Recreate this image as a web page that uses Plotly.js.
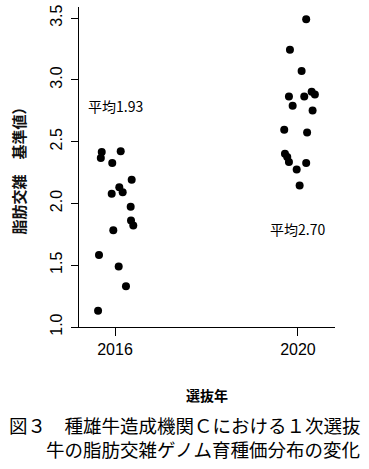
<!DOCTYPE html>
<html><head><meta charset="utf-8">
<script src="https://cdn.plot.ly/plotly-3.0.1.min.js"></script>
<style>html,body{margin:0;padding:0;background:#fff}#chart{width:369px;height:469px}</style>
</head><body><div id="chart"></div>
<script>
// 2016 selection (jittered x positions, values)
const x2016 = [2015.71, 2016.125, 2015.69, 2015.94, 2016.365, 2016.094, 2016.168, 2015.928, 2016.343, 2016.35, 2016.40, 2015.963, 2015.65, 2016.081, 2016.24, 2015.63];
const y2016 = [2.417, 2.422, 2.368, 2.328, 2.191, 2.131, 2.090, 2.078, 1.973, 1.862, 1.822, 1.784, 1.582, 1.490, 1.329, 1.132];
// 2020 selection
const x2020 = [2020.18, 2019.825, 2020.08, 2019.803, 2020.138, 2020.30, 2020.37, 2019.884, 2020.32, 2019.70, 2020.20, 2019.716, 2019.766, 2019.803, 2020.18, 2019.972, 2020.037];
const y2020 = [3.491, 3.243, 3.071, 2.866, 2.866, 2.904, 2.882, 2.791, 2.753, 2.597, 2.575, 2.403, 2.376, 2.336, 2.328, 2.274, 2.145];
const tickYears = [2016, 2020];
const tickLabels = ['2016', '2020'];
const yTicks = [1.0, 1.5, 2.0, 2.5, 3.0, 3.5];
const yTickLabels = ['1.0', '1.5', '2.0', '2.5', '3.0', '3.5'];
const meanLabels = ['平均1.93', '平均2.70'];
const meanLabelY = [2.79, 1.79];

const jp = '"Noto Sans CJK JP", sans-serif';
const latin = '"Liberation Sans", Arial, sans-serif';

// plot area in pixels (for converting caption positions to paper coords)
const PL = 79, PR = 335, PT = 7, PB = 327;
const px2paperX = p => (p - PL) / (PR - PL);
const px2paperY = p => (PB - p) / (PB - PT);

const marker = {color: '#000', size: 8, symbol: 'circle', line: {width: 0}};
const data = [
  {x: x2016, y: y2016, type: 'scatter', mode: 'markers', marker: marker, hoverinfo: 'none'},
  {x: x2020, y: y2020, type: 'scatter', mode: 'markers', marker: marker, hoverinfo: 'none'}
];

const layout = {
  width: 369, height: 469,
  margin: {l: PL, r: 369 - PR, t: PT, b: 469 - PB},
  paper_bgcolor: '#fff', plot_bgcolor: '#fff',
  showlegend: false,
  xaxis: {
    range: [2015.213, 2020.81],
    tickvals: tickYears, ticktext: tickLabels,
    showgrid: false, zeroline: false,
    showline: true, linecolor: '#000', linewidth: 1,
    ticks: 'outside', ticklen: 8, tickwidth: 1, tickcolor: '#000',
    tickfont: {family: latin, size: 16, color: '#000'},
    title: {text: '選抜年', font: {family: jp, size: 14, color: '#000', weight: 'bold'}, standoff: 33}
  },
  yaxis: {
    range: [1.0, 3.59],
    tickvals: yTicks, ticktext: yTickLabels,
    showgrid: false, zeroline: false,
    showline: true, linecolor: '#000', linewidth: 1,
    ticks: 'outside', ticklen: 7, tickwidth: 1, tickcolor: '#000',
    tickangle: -90, ticklabelstandoff: 3,
    tickfont: {family: latin, size: 16, color: '#000'},
    title: {text: '脂肪交雑　基準値）', font: {family: jp, size: 15, color: '#111', weight: 'bold'}, standoff: 18}
  },
  annotations: [
    {x: tickYears[0], y: meanLabelY[0], xref: 'x', yref: 'y', text: meanLabels[0], showarrow: false,
     font: {family: jp, size: 14, color: '#000'}},
    {x: tickYears[1], y: meanLabelY[1], xref: 'x', yref: 'y', text: meanLabels[1], showarrow: false,
     font: {family: jp, size: 14, color: '#000'}},
    {x: px2paperX(7), y: px2paperY(424.5), xref: 'paper', yref: 'paper', xanchor: 'left', yanchor: 'middle',
     text: '図３　種雄牛造成機関Ｃにおける１次選抜', showarrow: false,
     font: {family: jp, size: 18.5, color: '#000'}},
    {x: px2paperX(362), y: px2paperY(448.5), xref: 'paper', yref: 'paper', xanchor: 'right', yanchor: 'middle',
     text: '牛の脂肪交雑ゲノム育種価分布の変化', showarrow: false,
     font: {family: jp, size: 18.5, color: '#000'}}
  ]
};

Plotly.newPlot('chart', data, layout, {staticPlot: true, displayModeBar: false});
</script></body></html>
